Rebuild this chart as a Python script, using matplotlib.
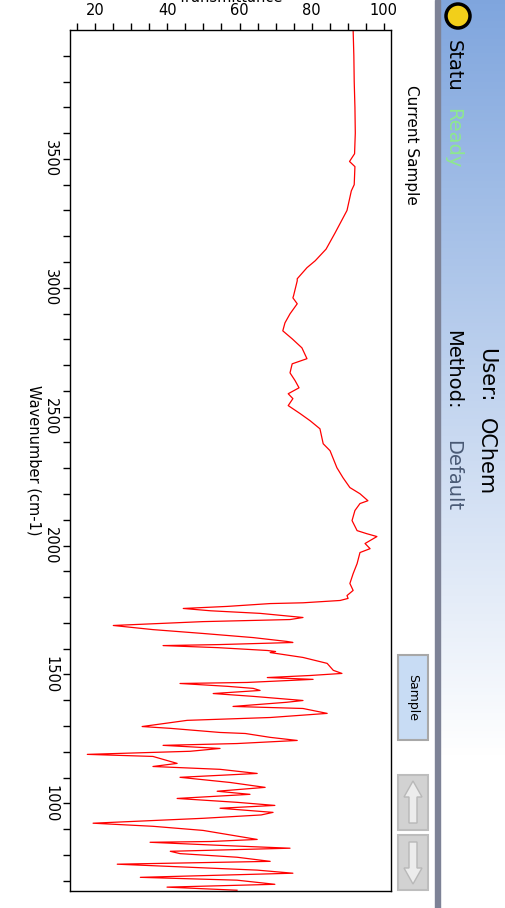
import numpy as np
import matplotlib.pyplot as plt
from matplotlib.patches import Rectangle, Ellipse, FancyBboxPatch, Polygon

plt.rcParams['font.family'] = ['DejaVu Sans']

# spectrum (wavenumber cm-1, %T)
wavenumber = [4000, 3900, 3800, 3700, 3600, 3520, 3490, 3470, 3400, 3376, 3300, 3213, 3150,
              3105, 3078, 3035, 3027, 2970, 2961, 2938, 2899, 2864, 2833, 2802, 2767, 2725,
              2705, 2670, 2640, 2612, 2589, 2570, 2543, 2512, 2484, 2453, 2395, 2368, 2302,
              2263, 2225, 2201, 2174, 2163, 2136, 2097, 2058, 2046, 2035, 2008, 1988, 1973,
              1930, 1891, 1853, 1826, 1806, 1795, 1787, 1778, 1775, 1764, 1756, 1747, 1737,
              1721, 1713, 1705, 1690, 1674, 1659, 1643, 1628, 1624, 1616, 1612, 1604, 1593,
              1589, 1585, 1566, 1543, 1516, 1504, 1496, 1488, 1481, 1469, 1465, 1454, 1446,
              1438, 1426, 1415, 1399, 1392, 1376, 1368, 1349, 1333, 1322, 1298, 1291, 1275,
              1271, 1256, 1244, 1232, 1225, 1213, 1202, 1190, 1182, 1155, 1143, 1132, 1116,
              1101, 1081, 1062, 1047, 1035, 1019, 1004, 992, 981, 965, 955, 942, 923, 911,
              895, 860, 852, 849, 837, 826, 814, 805, 791, 775, 764, 752, 741, 729, 713, 702,
              686, 675, 663]
transmittance = [91.5, 91.7, 91.8, 92.0, 92.1, 91.9, 90.5, 92.0, 91.8, 91.0, 89.8, 86.5, 84.0,
                 81.0, 78.7, 76.0, 76.0, 75.0, 74.8, 76.0, 74.0, 72.6, 72.0, 74.6, 77.3, 78.7,
                 74.6, 74.0, 75.4, 76.5, 73.5, 74.8, 73.5, 76.8, 79.6, 82.3, 83.2, 85.1, 87.0,
                 88.7, 90.6, 93.4, 95.6, 93.4, 92.0, 91.2, 92.6, 95.3, 98.1, 94.8, 96.2, 93.4,
                 92.6, 91.5, 90.6, 91.5, 89.8, 90.1, 87.9, 77.6, 68.5, 56.6, 44.4, 52.0, 65.7,
                 77.6, 74.0, 49.9, 25.0, 36.0, 49.9, 63.8, 73.2, 74.8, 54.6, 38.8, 54.0, 67.7,
                 70.0, 68.5, 77.6, 84.3, 86.0, 88.4, 79.6, 67.7, 80.4, 62.1, 43.5, 56.6, 63.8,
                 65.7, 52.7, 63.8, 77.6, 73.0, 58.2, 77.6, 84.3, 68.5, 45.5, 33.0, 40.8, 54.6,
                 61.6, 68.5, 76.0, 59.3, 38.8, 54.6, 46.3, 17.8, 36.0, 42.7, 36.0, 54.6, 64.9,
                 43.5, 57.4, 67.1, 53.8, 62.9, 42.7, 59.3, 69.8, 54.6, 69.3, 66.0, 49.9, 19.4,
                 36.0, 49.9, 64.9, 52.0, 35.2, 54.6, 74.0, 40.8, 43.5, 59.3, 68.5, 26.1, 46.3,
                 64.9, 74.8, 32.5, 59.3, 69.8, 39.9, 59.3]

fig = plt.figure(figsize=(5.05, 9.08), dpi=100)
W, H = 505, 908

def fx(px):
    return px / W

def fy(py):
    return 1 - py / H

# sidebar gradient
side = fig.add_axes([fx(440), 0, fx(65), 1])
grad = np.linspace(0, 1, 256).reshape(-1, 1)
top_c = np.array([0.50, 0.65, 0.87])
bot_c = np.array([1.0, 1.0, 1.0])
img = top_c + (bot_c - top_c) * np.clip(grad * 1.2, 0, 1)
side.imshow(img[:, None, :].repeat(2, axis=1), aspect='auto', extent=[0, 1, 0, 1],
            origin='upper')
side.axis('off')
fig.patches.append(Rectangle((fx(435), 0), fx(5), 1, transform=fig.transFigure,
                             color='#7d8296', zorder=5))

ax = fig.add_axes([fx(70), fy(891), fx(321), fy(30) - fy(891)])
ax.plot(transmittance, wavenumber, color='red', linewidth=0.9)
ax.set_xlim(13, 102)
ax.set_ylim(660, 4000)
ax.xaxis.tick_top()
ax.xaxis.set_label_position('top')
ax.set_xticks([20, 40, 60, 80, 100])
ax.set_xticks(np.arange(15, 101, 5), minor=True)
ax.set_yticks([1000, 1500, 2000, 2500, 3000, 3500])
ax.set_yticks(np.arange(700, 4000, 100), minor=True)
ax.tick_params(axis='both', which='both', direction='out', labelsize=10.5, width=1)
ax.tick_params(which='major', length=5)
ax.tick_params(which='minor', length=5)
for lab in ax.get_yticklabels():
    lab.set_rotation(-90)
    lab.set_va('center')
ax.set_xlabel('Transmittance', fontsize=10.5, labelpad=1)
ax.set_ylabel('Wavenumber (cm-1)', fontsize=10.5, rotation=-90, labelpad=12)
for s in ax.spines.values():
    s.set_linewidth(1)

fig.text(fx(411), fy(145), 'Current Sample', rotation=-90, ha='center', va='center',
         fontsize=11, color='black')

# status panel
fig.patches.append(Ellipse((fx(458), fy(16)), fx(24), 24 / H, transform=fig.transFigure,
                           facecolor='#f2cf1a', edgecolor='black', linewidth=2.5, zorder=6))
fig.text(fx(453), fy(40), 'Statu', rotation=-90, ha='center', va='top', fontsize=14,
         color='black')
fig.text(fx(453), fy(108), 'Ready', rotation=-90, ha='center', va='top', fontsize=14,
         color='#8ee88e')
fig.text(fx(486), fy(348), 'User:', rotation=-90, ha='center', va='top', fontsize=15)
fig.text(fx(486), fy(418), 'OChem', rotation=-90, ha='center', va='top', fontsize=15)
fig.text(fx(453), fy(330), 'Method:', rotation=-90, ha='center', va='top', fontsize=14)
fig.text(fx(453), fy(440), 'Default', rotation=-90, ha='center', va='top', fontsize=14,
         color='#4a5a75')

# buttons
fig.patches.append(FancyBboxPatch((fx(398), fy(740)), fx(30), fy(655) - fy(740),
                                  boxstyle='square,pad=0', transform=fig.transFigure,
                                  facecolor='#c8dcf4', edgecolor='#a8a8a8', linewidth=1.5))
fig.text(fx(413), fy(697), 'Sample', rotation=-90, ha='center', va='center', fontsize=9)
for y0, y1, up in [(775, 830, True), (835, 890, False)]:
    fig.patches.append(Rectangle((fx(398), fy(y1)), fx(30), fy(y0) - fy(y1),
                                 transform=fig.transFigure, facecolor='#d2d2d2',
                                 edgecolor='#bdbdbd', linewidth=1.5))
    xs = [404, 413, 422, 417, 417, 409, 409]
    if up:
        ys = [y0 + 22, y0 + 6, y0 + 22, y0 + 22, y0 + 48, y0 + 48, y0 + 22]
    else:
        ys = [y1 - 22, y1 - 6, y1 - 22, y1 - 22, y1 - 48, y1 - 48, y1 - 22]
    fig.patches.append(Polygon([(fx(a), fy(b)) for a, b in zip(xs, ys)],
                               transform=fig.transFigure, facecolor='#ececec',
                               edgecolor='#b8b8b8', linewidth=1))

plt.savefig('out.png', dpi=100)
